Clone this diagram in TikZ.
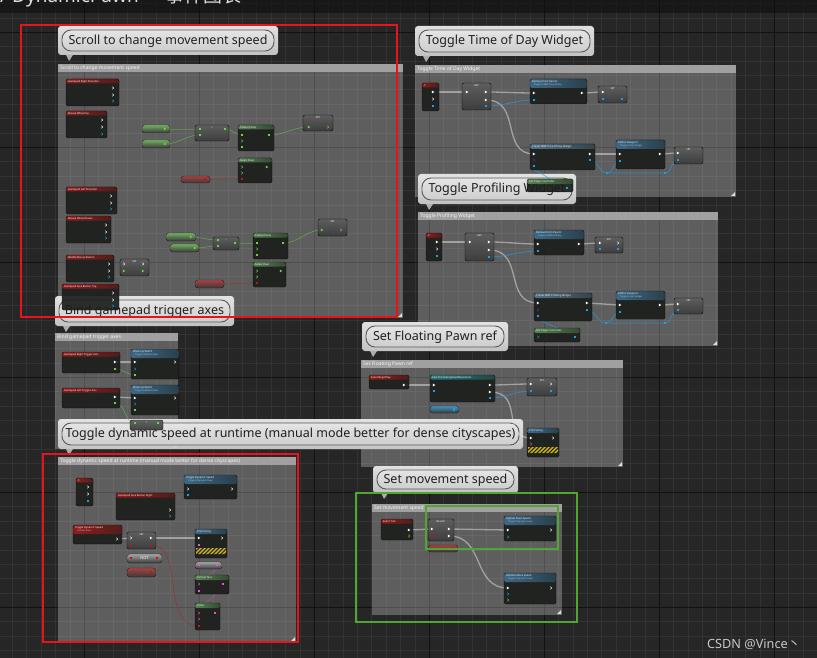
\documentclass[tikz,border=0pt]{standalone}
\usepackage{fontspec}
\setmainfont{Noto Sans}
\newfontfamily\cjk{Noto Sans CJK SC}
\pgfdeclarelayer{back}
\pgfdeclarelayer{bubble}
\pgfdeclarelayer{wire}
\pgfdeclarelayer{front}
\pgfsetlayers{back,bubble,wire,main,front}
\definecolor{bgc}{HTML}{262626}
\definecolor{gmin}{HTML}{333333}
\definecolor{gmaj}{HTML}{121212}
\definecolor{topc}{HTML}{0E0E0E}
\definecolor{nodebg}{HTML}{1C1E1C}
\definecolor{hred}{HTML}{9A1C1C}
\definecolor{hblue}{HTML}{3F6F90}
\definecolor{hgreen}{HTML}{5A8A55}
\definecolor{hteal}{HTML}{2A8080}
\definecolor{hcw}{HTML}{587890}
\definecolor{grayA}{HTML}{5E5E5E}
\definecolor{grayB}{HTML}{3C3C3C}
\definecolor{pillB}{HTML}{3A3A3A}
\definecolor{pinred}{HTML}{C01818}
\definecolor{pingreen}{HTML}{6BD34A}
\definecolor{pinblue}{HTML}{1AA0E8}
\definecolor{pinpink}{HTML}{F050C8}
\definecolor{pinpurple}{HTML}{6A2FB0}
\definecolor{bubA}{HTML}{EAEAEA}
\definecolor{bubB}{HTML}{CBCBCB}
\definecolor{pillline}{HTML}{5A5A5A}
\definecolor{textdark}{HTML}{202020}
\definecolor{redbox}{HTML}{E8141C}
\definecolor{greenbox}{HTML}{52A532}
\definecolor{cmtbar}{HTML}{A8A8A8}
\definecolor{hazardc}{HTML}{C9B21A}
\definecolor{wmc}{HTML}{C8C8C8}
\tikzset{
  gminor/.style={draw=gmin, line width=0.6pt},
  gmajor/.style={draw=gmaj, line width=1.1pt},
  cmt/.style={anchor=north west, inner sep=0pt, outer sep=0pt, fill=white, fill opacity=0.26},
  cmttitle/.style={font=\fontsize{5}{6}\selectfont, text=white!92!gray, inner sep=0pt},
  bubout/.style={anchor=north west, inner sep=0pt, outer sep=0pt, rounded corners=3pt, top color=bubA, bottom color=bubB, opacity=0.95},
  bubpill/.style={draw=pillline, line width=0.9pt, rounded corners=9pt, top color=bubA!95!gray, bottom color=bubB!95!white},
  bubptr/.style={fill=bubB!85!black},
  bubtext/.style={font=\fontsize{12.5}{14}\selectfont, text=textdark, inner sep=0pt},
  bpbody/.style={anchor=north west, inner sep=0pt, outer sep=0pt, fill=nodebg, fill opacity=0.92, draw=black, draw opacity=0.7, line width=0.4pt, rounded corners=1.5pt},
  hdr/.style 2 args={path picture={\shade[left color=#1, right color=#1!45!nodebg] (path picture bounding box.north west) rectangle ([yshift=-#2pt]path picture bounding box.north east);}},
  bpgray/.style={anchor=north west, inner sep=0pt, outer sep=0pt, top color=grayA, bottom color=grayB, draw=black, draw opacity=0.7, line width=0.4pt, rounded corners=2pt, opacity=0.95},
  bppill/.style={anchor=north west, inner sep=0pt, outer sep=0pt, draw=black, draw opacity=0.6, line width=0.4pt, rounded corners=2.8pt},
  bptitle/.style={font=\fontsize{2.6}{3}\selectfont, text=white!88!gray, inner sep=0pt},
  bpsub/.style={font=\fontsize{2.2}{2.5}\selectfont, text=white!60!hblue, inner sep=0pt},
  wx/.style={draw=white!80!gray, line width=1.3pt, draw opacity=0.5},
  wg/.style={draw=pingreen, line width=0.7pt, draw opacity=0.5},
  wb/.style={draw=pinblue, line width=0.7pt, draw opacity=0.7},
  wr/.style={draw=pinred, line width=0.6pt, draw opacity=0.55},
  wp/.style={draw=pinpink, line width=0.6pt, draw opacity=0.45},
  markrect/.style={anchor=north west, inner sep=0pt, outer sep=0pt, line width=1.8pt},
}
\newcommand\cmtbox[6]{%
  \node[cmt, minimum width=#4pt, minimum height=#5pt] (#1) at (#2,#3) {};
  \fill[cmtbar, opacity=0.9] (#1.north west) rectangle ([yshift=-8pt]#1.north east);
  \node[cmttitle, anchor=west] (#1-t) at ([xshift=2pt,yshift=-4pt]#1.north west) {#6};
  \fill[white!75!gray] ([xshift=-1pt,yshift=1pt]#1.south east) -- ++(-4pt,0pt) -- ++(4pt,4pt) -- cycle;}
\newcommand\bubble[6]{%
  \node[bubout, minimum width=#4pt, minimum height=#5pt] (#1) at (#2,#3) {};
  \draw[bubpill] ([xshift=4pt,yshift=-4pt]#1.north west) rectangle ([xshift=-4pt,yshift=4pt]#1.south east);
  \fill[bubptr] ([xshift=8pt]#1.south west) -- ([xshift=15pt]#1.south west) -- ([xshift=11pt,yshift=-6pt]#1.south west) -- cycle;
  \node[bubtext] (#1-t) at ([yshift=-0.5pt]#1.center) {#6};}
\newcommand\bpnode[9]{%
  \node[bpbody, minimum width=#4pt, minimum height=#5pt, hdr={#6}{#7}] (#1) at (#2,#3) {};
  \node[bptitle, anchor=west] (#1-t) at ([xshift=2pt,yshift=-2.4pt]#1.north west) {#8};
  \node[bpsub, anchor=west] (#1-s) at ([xshift=4pt,yshift=-6pt]#1.north west) {#9};}
\newcommand\bpgraynode[6]{%
  \node[bpgray, minimum width=#4pt, minimum height=#5pt] (#1) at (#2,#3) {};
  \node[bptitle] (#1-t) at ([yshift=-2.6pt]#1.north) {#6};}
\newcommand\bppillnode[6]{%
  \node[bppill, top color=#6, bottom color=pillB, minimum width=#4pt, minimum height=#5pt] (#1) at (#2,#3) {};}
\newcommand\pint[4]{\coordinate (#1) at (#2,#3); \fill[#4] (#2-1.1,#3-1.4) -- (#2+1.3,#3) -- (#2-1.1,#3+1.4) -- cycle;}
\newcommand\pino[4]{\coordinate (#1) at (#2,#3); \draw[#4, line width=0.4pt] (#2-0.9,#3-1.3) -- (#2+0.9,#3) -- (#2-0.9,#3+1.3);}
\newcommand\pinsq[4]{\coordinate (#1) at (#2,#3); \fill[#4] (#2-1.1,#3-1.1) rectangle (#2+1.1,#3+1.1);}
\newcommand\hazard[4]{\begin{scope}\clip (#1,#2) rectangle (#3,#4); \fill[black!85] (#1,#2) rectangle (#3,#4);
  \foreach \k in {0,...,10} {\fill[hazardc] ({#1+\k*4-6},#4) -- ({#1+\k*4-4},#4) -- ({#1+\k*4+2},#2) -- ({#1+\k*4},#2) -- cycle;}\end{scope}}
\begin{document}
\begin{tikzpicture}[x=1pt,y=-1pt]
\useasboundingbox (0,0) rectangle (817,658);
\begin{pgfonlayer}{back}
\fill[bgc] (0,0) rectangle (817,658);
\foreach \i in {0,...,56} {\draw[gminor] ({12.4+\i*14.375},0) -- ({12.4+\i*14.375},658);}
\foreach \i in {0,...,45} {\draw[gminor] (0,{3.55+\i*14.375}) -- (817,{3.55+\i*14.375});}
\foreach \i in {0,...,6} {\draw[gmajor] ({84.3+\i*115},0) -- ({84.3+\i*115},658);}
\foreach \i in {0,...,5} {\draw[gmajor] (0,{32.3+\i*115}) -- (817,{32.3+\i*115});}
\fill[topc, opacity=0.6] (0,0) rectangle (817,13);
\begin{scope}
\clip (0,0) rectangle (817,13);
\node[anchor=base west, font=\fontsize{19}{20}\selectfont, text=white!75!gray, inner sep=0pt] (crumb) at (0,2.5) {/ DynamicPawn \,>\, {\cjk 事件图表}};
\end{scope}
\cmtbox{c1}{58}{64}{345}{254}{Scroll to change movement speed}
\cmtbox{c2}{415}{65}{321}{132}{Toggle Time of Day Widget}
\cmtbox{c3}{418}{212}{300}{134}{Toggle Profiling Widget}
\cmtbox{c4}{55}{333}{123}{116}{Bind gamepad trigger axes}
\cmtbox{c5}{58}{457}{238}{185}{Toggle dynamic speed at runtime (manual mode better for dense cityscapes)}
\cmtbox{c6}{361}{360}{262}{107}{Set Floating Pawn ref}
\cmtbox{c7}{372}{504}{190}{111}{Set movement speed}
\end{pgfonlayer}
\begin{pgfonlayer}{bubble}
\bubble{b1}{58}{26}{220}{29}{Scroll to change movement speed}
\bubble{b2}{415}{26}{179}{30}{Toggle Time of Day Widget}
\bubble{b3}{418}{174}{158}{30}{Toggle Profiling Widget}
\bubble{b4}{55}{296}{179}{30}{Bind gamepad trigger axes}
\bubble{b5}{58}{419}{465}{30}{Toggle dynamic speed at runtime (manual mode better for dense cityscapes)}
\bubble{b6}{362}{322}{146}{29}{Set Floating Pawn ref}
\bubble{b7}{373}{466}{145}{27}{Set movement speed}
\end{pgfonlayer}
% ---------- box 1
\bpnode{n1a}{66}{79}{53}{27}{hred}{4.5}{Gamepad Right Shoulder}{}
\bpnode{n1b}{66}{111}{41}{27}{hred}{4.5}{Mouse Wheel Up}{}
\bppillnode{n1c}{142}{125}{28}{8}{pingreen!55!gray}
\bppillnode{n1d}{142}{140}{28}{8}{pingreen!55!gray}
\bpgraynode{n1e}{195}{125}{34}{16}{×}
\bpnode{n1f}{238}{125}{36}{26}{hgreen}{4.5}{Clamp (Float)}{}
\bpgraynode{n1g}{303}{115}{30}{16}{SET}
\bpnode{n1h}{238}{158}{34}{25}{hgreen}{4.5}{Select Float}{}
\bppillnode{n1i}{181}{176}{29}{7}{pinred!60!gray}
\bpnode{n1j}{66}{187}{51}{27}{hred}{4.5}{Gamepad Left Shoulder}{}
\bpnode{n1k}{66}{216}{45}{27}{hred}{4.5}{Mouse Wheel Down}{}
\bppillnode{n1l}{166}{233}{30}{8}{pingreen!55!gray}
\bppillnode{n1m}{170}{244}{29}{8}{pingreen!55!gray}
\bpgraynode{n1n}{213}{237}{26}{13}{÷}
\bpnode{n1o}{253}{233}{35}{26}{hgreen}{4.5}{Clamp (Float)}{}
\bpgraynode{n1p}{318}{219}{29}{17}{SET}
\bpnode{n1q}{253}{262}{33}{25}{hgreen}{4.5}{Select Float}{}
\bppillnode{n1r}{195}{280}{29}{8}{pinred!60!gray}
\bpnode{n1s}{66}{255}{48}{27}{hred}{4.5}{Middle Mouse Button}{}
\bpgraynode{n1t}{120}{259}{29}{17}{SET}
\bpnode{n1u}{62}{284}{57}{26}{hred}{4.5}{Gamepad Face Button Top}{}
\pino{n1a-o1}{113}{88}{white}\pino{n1a-o2}{113}{95}{white}\pino{n1a-o3}{113}{101}{pinblue}
\pino{n1b-o1}{102}{120}{white}\pino{n1b-o2}{102}{127}{white}\pino{n1b-o3}{102}{134}{pinblue}
\pino{n1j-o1}{111}{196}{white}\pino{n1j-o2}{111}{203}{white}\pino{n1j-o3}{111}{209}{pinblue}
\pino{n1k-o1}{106}{225}{white}\pino{n1k-o2}{106}{232}{white}\pino{n1k-o3}{106}{238}{pinblue}
\pino{n1s-o1}{109}{264}{white}\pino{n1s-o2}{109}{271}{white}\pino{n1s-o3}{109}{277}{pinblue}
\pino{n1u-o1}{113}{293}{white}\pino{n1u-o2}{113}{300}{white}\pino{n1u-o3}{113}{306}{pinblue}
\pint{n1c-o}{165}{129}{pingreen}\pint{n1d-o}{165}{144}{pingreen}
\pinsq{n1e-i1}{200}{129}{pingreen}\pinsq{n1e-i2}{200}{135}{pingreen}\pinsq{n1e-o}{225}{129}{pingreen}
\pinsq{n1f-i1}{242}{135}{pingreen}\pino{n1f-i2}{242}{141}{pingreen}\pinsq{n1f-i3}{242}{147}{pingreen}\pinsq{n1f-o}{269}{135}{pingreen}
\pint{n1g-i}{309}{127}{pingreen}\pino{n1g-o}{328}{127}{pingreen}
\pino{n1h-i1}{242}{167}{pingreen}\pino{n1h-i2}{242}{173}{pingreen}\pinsq{n1h-i3}{242}{179}{pinred}\pint{n1h-o}{267}{167}{pingreen}
\pinsq{n1i-o}{205}{179.5}{pinred}
\pint{n1l-o}{191}{237}{pingreen}\pint{n1m-o}{195}{248}{pingreen}
\pinsq{n1n-i1}{218}{240}{pingreen}\pinsq{n1n-i2}{218}{246}{pingreen}\pinsq{n1n-o}{235}{243}{pingreen}
\pinsq{n1o-i1}{257}{243}{pingreen}\pino{n1o-i2}{257}{249}{pingreen}\pinsq{n1o-i3}{257}{255}{pingreen}\pinsq{n1o-o}{283}{243}{pingreen}
\pint{n1p-i}{322}{230}{pingreen}\pino{n1p-o}{341}{230}{pingreen}
\pino{n1q-i1}{257}{271}{pingreen}\pino{n1q-i2}{257}{277}{pingreen}\pinsq{n1q-i3}{257}{283}{pinred}\pint{n1q-o}{281}{271}{pingreen}
\pinsq{n1r-o}{219}{284}{pinred}
\pino{n1t-i1}{124}{264}{white}\pint{n1t-i2}{124}{271}{pingreen}\pino{n1t-o1}{143}{264}{white}\pint{n1t-o2}{143}{271}{pingreen}
% ---------- box 2
\bpnode{n2a}{422}{83}{17}{28}{hred}{4.5}{T}{}
\bpgraynode{n2b}{462}{83}{29}{27}{GET}
\bpnode{n2c}{530}{79}{57}{25}{hblue}{9}{Remove from Parent}{Target is WBP Time Of Day}
\bpgraynode{n2d}{598}{86}{29}{17}{SET}
\bpnode{n2e}{530}{144}{65}{26}{hcw}{5}{Create WBP Time Of Day Widget}{}
\bpnode{n2f}{616}{140}{49}{29}{hblue}{9}{Add to Viewport}{Target is User Widget}
\bpgraynode{n2g}{674}{147}{29}{17}{SET}
\bpnode{n2h}{527}{179}{46}{13}{hgreen}{5}{Get Player Controller}{}
\pint{n2a-o1}{433}{92}{white}\pino{n2a-o2}{433}{99}{white}\pinsq{n2a-o3}{433}{106}{pinblue}
\pint{n2b-i}{467}{92}{white}\pint{n2b-o1}{486}{92}{white}\pint{n2b-o2}{486}{100}{white}\pinsq{n2b-o3}{486}{106}{pinblue}
\pint{n2c-i}{534}{93}{white}\pinsq{n2c-b}{534}{100}{pinblue}\pint{n2c-o}{582}{93}{white}
\pint{n2d-i}{603}{92}{white}\pinsq{n2d-b}{603}{99}{pinblue}\pinsq{n2d-o}{622}{99}{pinblue}
\pint{n2e-i}{534}{154}{white}\pino{n2e-p}{534}{160}{pinpurple}\pinsq{n2e-b}{534}{166}{pinblue}\pint{n2e-o}{590}{154}{white}\pinsq{n2e-bo}{590}{160}{pinblue}
\pint{n2f-i}{620}{154}{white}\pinsq{n2f-b}{620}{161}{pinblue}\pint{n2f-o}{660}{154}{white}
\pint{n2g-i}{678}{153}{white}\pinsq{n2g-b}{678}{160}{pinblue}
\pinsq{n2h-o}{567}{188}{pinblue}
\pinsq{r2a}{607}{173}{pinblue}\pinsq{r2b}{665}{173}{pinblue}
% ---------- box 3
\bpnode{n3a}{426}{233}{16}{28}{hred}{4.5}{P}{}
\bpgraynode{n3b}{465}{233}{29}{28}{GET}
\bpnode{n3c}{534}{230}{50}{25}{hblue}{9}{Remove from Parent}{Target is WBP Profiling}
\bpgraynode{n3d}{595}{237}{28}{16}{SET}
\bpnode{n3e}{534}{293}{58}{28}{hcw}{5}{Create WBP Profiling Widget}{}
\bpnode{n3f}{616}{291}{49}{28}{hblue}{9}{Add to Viewport}{Target is User Widget}
\bpgraynode{n3g}{674}{298}{29}{16}{SET}
\bpnode{n3h}{534}{328}{46}{14}{hgreen}{5}{Get Player Controller}{}
\pint{n3a-o1}{437}{242}{white}\pino{n3a-o2}{437}{249}{white}\pinsq{n3a-o3}{437}{256}{pinblue}
\pint{n3b-i}{470}{242}{white}\pint{n3b-o1}{489}{242}{white}\pint{n3b-o2}{489}{250}{white}\pinsq{n3b-o3}{489}{257}{pinblue}
\pint{n3c-i}{538}{244}{white}\pinsq{n3c-b}{538}{251}{pinblue}\pint{n3c-o}{579}{244}{white}
\pint{n3d-i}{600}{243}{white}\pinsq{n3d-b}{600}{249}{pinblue}\pino{n3d-o}{618}{243}{white}\pinsq{n3d-bo}{618}{249}{pinblue}
\pint{n3e-i}{538}{303}{white}\pino{n3e-p}{538}{310}{pinpurple}\pinsq{n3e-b}{538}{316}{pinblue}\pint{n3e-o}{587}{303}{white}\pinsq{n3e-bo}{587}{310}{pinblue}
\pint{n3f-i}{620}{305}{white}\pinsq{n3f-b}{620}{312}{pinblue}\pint{n3f-o}{660}{305}{white}
\pint{n3g-i}{678}{304}{white}\pinsq{n3g-b}{678}{310}{pinblue}
\pino{n3h-i}{538}{337}{pinblue}\pinsq{n3h-o}{575}{337}{pinblue}
\pinsq{r3a}{606}{323}{pinblue}\pinsq{r3b}{665}{323}{pinblue}
% ---------- box 4
\bpnode{n4a}{62}{352}{58}{21}{hred}{4.5}{Gamepad Right Trigger Axis}{}
\bpnode{n4b}{131}{349}{48}{30}{hblue}{9}{Move Up World}{Target is Default Pawn}
\bpnode{n4c}{62}{388}{58}{20}{hred}{4.5}{Gamepad Left Trigger Axis}{}
\bpnode{n4d}{131}{385}{48}{30}{hblue}{9}{Move Up World}{Target is Default Pawn}
\bpgraynode{n4e}{130}{420}{33}{10}{×}
\pint{n4a-o1}{115}{362}{white}\pinsq{n4a-o2}{115}{369}{pingreen}
\pint{n4b-i}{135}{362}{white}\pino{n4b-t}{135}{369}{pinblue}\pinsq{n4b-v}{135}{375}{pingreen}\pino{n4b-o}{175}{362}{white}
\pint{n4c-o1}{115}{397}{white}\pinsq{n4c-o2}{115}{403}{pingreen}
\pint{n4d-i}{135}{398}{white}\pino{n4d-t}{135}{404}{pinblue}\pinsq{n4d-v}{135}{410}{pingreen}\pino{n4d-o}{175}{398}{white}
\pinsq{n4e-i}{135}{423}{pingreen}\pinsq{n4e-o}{158}{423}{pingreen}
% ---------- box 5
\bpnode{n5a}{76}{478}{17}{28}{hred}{4.5}{F}{}
\bpnode{n5b}{184}{475}{53}{24}{hblue}{9}{Toggle Dynamic Speed}{Target is Dynamic Pawn}
\bpnode{n5c}{116}{493}{59}{27}{hred}{4.5}{Gamepad Face Button Right}{}
\bpnode{n5d}{73}{525}{49}{19}{hred}{9}{Toggle Dynamic Speed}{Custom Event}
\bpgraynode{n5e}{127}{532}{29}{17}{SET}
\bppillnode{n5f}{127}{554}{35}{9}{gray!70}
\node[bptitle, font=\fontsize{4}{4}\selectfont\bfseries] (n5f-t) at (n5f.center) {NOT};
\bppillnode{n5g}{127}{568}{29}{9}{pinred!60!gray}
\bpnode{n5h}{195}{529}{32}{29}{hblue}{5}{Print String}{}
\hazard{196}{548}{226}{554}
\bppillnode{n5i}{195}{562}{27}{7}{gray!70}
\bpnode{n5j}{195}{575}{34}{19}{hgreen}{5}{Format Text}{}
\bpnode{n5k}{195}{603}{25}{27}{hgreen}{5}{Select}{}
\pino{n5a-o1}{88}{487}{white}\pino{n5a-o2}{88}{494}{white}\pinsq{n5a-o3}{88}{501}{pinblue}
\pino{n5b-i}{188}{489}{white}\pino{n5b-o}{232}{489}{white}\pinsq{n5b-t}{188}{495}{pinblue}
\pino{n5c-o1}{170}{510}{white}\pino{n5c-o2}{170}{516}{pinblue}
\pino{n5d-o}{117}{539}{white}
\pino{n5e-i}{131}{538}{white}\pint{n5e-o}{151}{538}{white}\pinsq{n5e-ri}{131}{545}{pinred}\pinsq{n5e-ro}{151}{545}{pinred}
\pinsq{n5f-i}{131}{558}{pinred}\pinsq{n5f-o}{157}{558}{pinred}
\pinsq{n5g-o}{151}{572}{pinred}
\pint{n5h-i}{199}{538}{white}\pinsq{n5h-p}{199}{545}{pinpink}\pino{n5h-o}{222}{538}{white}
\pinsq{n5i-i}{199}{565}{pinpink}\pinsq{n5i-o}{217}{565}{pinpink}
\pino{n5j-i1}{199}{584}{pinpink}\pinsq{n5j-i2}{199}{591}{pinpink}\pinsq{n5j-o}{223}{584}{pinpink}
\pino{n5k-i1}{199}{613}{pinpink}\pino{n5k-i2}{199}{619}{pinpink}\pinsq{n5k-i3}{199}{626}{pinred}\pinsq{n5k-o}{215}{613}{pinpink}
% ---------- box 6
\bpnode{n6a}{369}{375}{40}{14}{hred}{4.5}{Event BeginPlay}{}
\bpnode{n6b}{430}{375}{65}{27}{hteal}{4.5}{Cast To FloatingPawnMovement}{}
\bppillnode{n6c}{430}{406}{29}{7}{pinblue!60!gray}
\bpgraynode{n6d}{527}{378}{30}{18}{SET}
\bpnode{n6e}{527}{428}{32}{29}{hblue}{5}{Print String}{}
\hazard{528}{447}{558}{453}
\pint{n6a-o}{404}{385}{white}
\pint{n6b-i}{434}{385}{white}\pinsq{n6b-b}{434}{391}{pinblue}\pint{n6b-o1}{490}{385}{white}\pint{n6b-o2}{490}{392}{white}\pinsq{n6b-o3}{490}{398}{pinblue}
\pinsq{n6c-o}{454}{409.5}{pinblue}
\pint{n6d-i}{531}{384}{white}\pinsq{n6d-b}{531}{391}{pinblue}\pino{n6d-o}{551}{384}{white}\pinsq{n6d-bo}{551}{391}{pinblue}
\pint{n6e-i}{531}{438}{white}\pino{n6e-p}{531}{444}{pinpink}\pino{n6e-o}{553}{438}{white}
% ---------- box 7
\bpnode{n7a}{381}{519}{32}{21}{hred}{4.5}{Event Tick}{}
\bpgraynode{n7b}{428}{519}{26}{22}{Branch}
\bppillnode{n7c}{428}{545}{30}{7}{pinred!60!gray}
\bpnode{n7d}{504}{516}{52}{25}{hblue}{9}{Update Pawn Speed}{Target is Dynamic Pawn}
\bpnode{n7e}{504}{573}{52}{31}{hblue}{9}{Set Max Move Speed}{Target is Dynamic Pawn}
\pint{n7a-o1}{409}{530}{white}\pino{n7a-o2}{409}{536}{pingreen}
\pint{n7b-i}{432}{529}{white}\pinsq{n7b-c}{432}{536}{pinred}\pint{n7b-t}{449}{529}{white}\pint{n7b-f}{449}{536}{white}
\pinsq{n7c-o}{452}{548.5}{pinred}
\pint{n7d-i}{508}{530}{white}\pino{n7d-t}{508}{537}{pinblue}\pino{n7d-o}{551}{530}{white}
\pint{n7e-i}{508}{588}{white}\pino{n7e-t}{508}{594}{pinblue}\pino{n7e-v}{508}{600}{pingreen}\pino{n7e-o}{551}{588}{white}
% ---------- wires
\begin{pgfonlayer}{wire}
\draw[wg] (n1c-o) to[out=0,in=180] (n1e-i1);
\draw[wg] (n1d-o) to[out=0,in=180] (n1e-i2);
\draw[wg] (n1e-o) to[out=0,in=180] (n1f-i1);
\draw[wg] (n1f-o) to[out=0,in=180] (n1g-i);
\draw[wr] (n1i-o) to[out=0,in=180] (n1h-i3);
\draw[wg] (n1l-o) to[out=0,in=180] (n1n-i1);
\draw[wg] (n1m-o) to[out=0,in=180] (n1n-i2);
\draw[wg] (n1n-o) to[out=0,in=180] (n1o-i1);
\draw[wg] (n1o-o) to[out=0,in=180] (n1p-i);
\draw[wr] (n1r-o) to[out=0,in=180] (n1q-i3);
\draw[wx] (n2a-o1) -- (n2b-i);
\draw[wx] (n2b-o1) to[out=0,in=180] (n2c-i);
\draw[wx] (n2c-o) to[out=0,in=180] (n2d-i);
\draw[wx] (n2b-o2) .. controls (522,100) and (500,154) .. (n2e-i);
\draw[wx] (n2e-o) -- (n2f-i);
\draw[wx] (n2f-o) to[out=0,in=180] (n2g-i);
\draw[wb] (n2b-o3) to[out=0,in=180] (n2c-b);
\draw[wb] (n2e-bo) to[out=0,in=180] (r2a) to[out=0,in=180] (n2f-b);
\draw[wb] (r2a) -- (r2b) to[out=0,in=180] (n2g-b);
\draw[wb] (n2e-b) .. controls (524,166) and (540,172) .. (n2h.north);
\draw[wx] (n3a-o1) -- (n3b-i);
\draw[wx] (n3b-o1) to[out=0,in=180] (n3c-i);
\draw[wx] (n3c-o) to[out=0,in=180] (n3d-i);
\draw[wx] (n3b-o2) .. controls (525,250) and (503,303) .. (n3e-i);
\draw[wx] (n3e-o) -- (n3f-i);
\draw[wx] (n3f-o) to[out=0,in=180] (n3g-i);
\draw[wb] (n3b-o3) to[out=0,in=180] (n3c-b);
\draw[wb] (n3e-bo) to[out=0,in=180] (r3a) to[out=0,in=180] (n3f-b);
\draw[wb] (r3a) -- (r3b) to[out=0,in=180] (n3g-b);
\draw[wb] (n3e-b) .. controls (526,316) and (545,322) .. (n3h.north);
\draw[wx] (n4a-o1) -- (n4b-i);
\draw[wg] (n4a-o2) to[out=0,in=180] (n4b-v);
\draw[wx] (n4c-o1) -- (n4d-i);
\draw[wg] (n4c-o2) to[out=0,in=180] (n4e-i);
\draw[wx] (n5d-o) -- (n5e-i);
\draw[wx] (n5e-o) -- (n5h-i);
\draw[wr] (n5e-ro) .. controls (185,545) and (160,626) .. (n5k-i3);
\draw[wp] (n5i-o) .. controls (232,565) and (186,584) .. (n5j-i1);
\draw[wp] (n5j-o) .. controls (236,584) and (186,613) .. (n5k-i1);
\draw[wx] (n6a-o) -- (n6b-i);
\draw[wx] (n6b-o1) to[out=0,in=180] (n6d-i);
\draw[wx] (n6b-o2) .. controls (525,392) and (500,438) .. (n6e-i);
\draw[wb] (n6b-o3) to[out=0,in=180] (n6d-b);
\draw[wx] (n7a-o1) -- (n7b-i);
\draw[wx] (n7b-t) -- (n7d-i);
\draw[wx] (n7b-f) .. controls (485,536) and (472,588) .. (n7e-i);
\end{pgfonlayer}
% ---------- front
\begin{pgfonlayer}{front}
\node[markrect, draw=redbox, minimum width=376pt, minimum height=292pt] (r1) at (21,25) {};
\node[markrect, draw=redbox, minimum width=255pt, minimum height=188pt] (r2) at (43,454) {};
\node[markrect, draw=greenbox, minimum width=221pt, minimum height=129pt] (g1) at (356,493) {};
\node[markrect, draw=greenbox, minimum width=132pt, minimum height=43pt] (g2) at (426,506) {};
\node[anchor=base west, font=\fontsize{12.7}{13}\selectfont, text=wmc, inner sep=0pt] (wm) at (707,648) {CSDN @Vince{\cjk 丶}};
\end{pgfonlayer}
\end{tikzpicture}
\end{document}
